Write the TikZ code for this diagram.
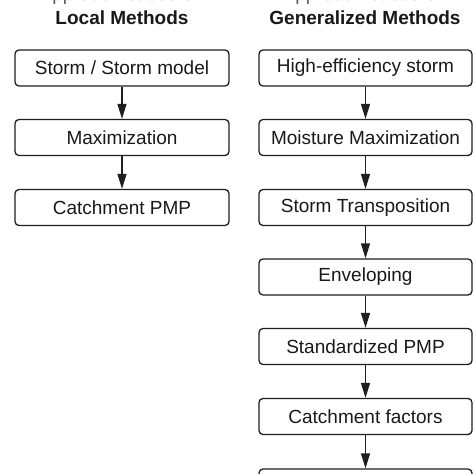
\documentclass[tikz,border=0pt]{standalone}
\usepackage{fontspec}
\setmainfont{Liberation Sans}
\usetikzlibrary{arrows.meta}
\begin{document}
\begin{tikzpicture}[x=1pt,y=-1pt,
  stepbox/.style={draw=black!88, line width=1.3pt, rounded corners=4pt, minimum height=36pt, inner sep=0pt, font=\fontsize{19}{22}\selectfont, text=black!90},
  lbox/.style={stepbox, minimum width=214pt},
  rbox/.style={stepbox, minimum width=213pt},
  hdr/.style={anchor=base, font=\fontsize{19}{22}\selectfont\bfseries, text=black!90},
  sub/.style={anchor=base, font=\fontsize{19}{22}\selectfont, text=black!65},
  arr/.style={-{Triangle[length=15pt,width=9pt]}, line width=1.3pt, draw=black!88}]
\useasboundingbox (0,0) rectangle (474,474);
\clip (0,0) rectangle (474,474);
\fill[white] (0,0) rectangle (474,474);
% headers
\node[sub] (s1) at (122,0.5) {Approach based on};
\node[sub] (s2) at (365,0.5) {Approach based on};
\node[hdr] (h1) at (122,24) {Local Methods};
\node[hdr] (h2) at (365,24) {Generalized Methods};
% left column
\node[lbox] (l1) at (122,68) {Storm / Storm model};
\node[lbox] (l2) at (122,137.5) {Maximization};
\node[lbox] (l3) at (122,207.5) {Catchment PMP};
% right column
\node[rbox] (r1) at (365.5,68) {High-efficiency storm};
\node[rbox] (r2) at (365.5,137.5) {Moisture Maximization};
\node[rbox] (r3) at (365.5,207.5) {Storm Transposition};
\node[rbox] (r4) at (365.5,277) {Enveloping};
\node[rbox] (r5) at (365.5,346.5) {Standardized PMP};
\node[rbox] (r6) at (365.5,416.5) {Catchment factors};
\node[rbox] (r7) at (365.5,487) {};
% arrows
\draw[arr] (l1) -- (l2);
\draw[arr] (l2) -- (l3);
\draw[arr] (r1) -- (r2);
\draw[arr] (r2) -- (r3);
\draw[arr] (r3) -- (r4);
\draw[arr] (r4) -- (r5);
\draw[arr] (r5) -- (r6);
\draw[arr] (r6) -- (r7);
\end{tikzpicture}
\end{document}
